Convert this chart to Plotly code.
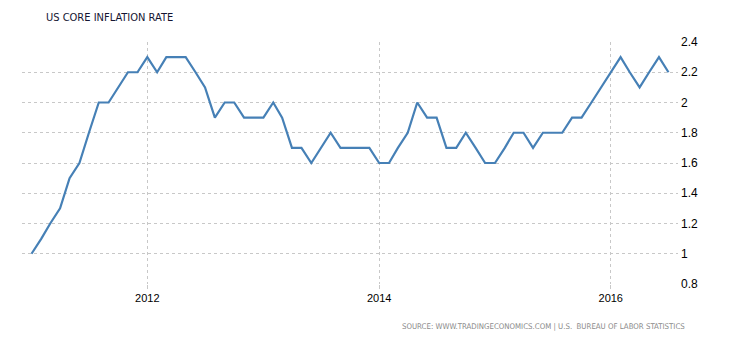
import pandas as pd
import plotly.graph_objects as go

start_month = "2011-01-01"
values = [
    # 2011
    1.0, 1.1, 1.2, 1.3, 1.5, 1.6, 1.8, 2.0, 2.0, 2.1, 2.2, 2.2,
    # 2012
    2.3, 2.2, 2.3, 2.3, 2.3, 2.2, 2.1, 1.9, 2.0, 2.0, 1.9, 1.9,
    # 2013
    1.9, 2.0, 1.9, 1.7, 1.7, 1.6, 1.7, 1.8, 1.7, 1.7, 1.7, 1.7,
    # 2014
    1.6, 1.6, 1.7, 1.8, 2.0, 1.9, 1.9, 1.7, 1.7, 1.8, 1.7, 1.6,
    # 2015
    1.6, 1.7, 1.8, 1.8, 1.7, 1.8, 1.8, 1.8, 1.9, 1.9, 2.0, 2.1,
    # 2016
    2.2, 2.3, 2.2, 2.1, 2.2, 2.3, 2.2,
]
dates = pd.date_range(start_month, periods=len(values), freq="MS")

x_ticks = ["2012-01-01", "2014-01-01", "2016-01-01"]
x_tick_labels = ["2012", "2014", "2016"]
y_ticks = [0.8, 1.0, 1.2, 1.4, 1.6, 1.8, 2.0, 2.2, 2.4]
y_tick_labels = ["0.8", "1", "1.2", "1.4", "1.6", "1.8", "2", "2.2", "2.4"]

title_text = "US CORE INFLATION RATE"
source_text = "SOURCE: WWW.TRADINGECONOMICS.COM | U.S.  BUREAU OF LABOR STATISTICS"

fig = go.Figure()
fig.add_trace(go.Scatter(
    x=dates, y=values, mode="lines",
    line=dict(color="#4680B6", width=2.2),
    hoverinfo="x+y", showlegend=False,
))

fig.update_layout(
    width=730, height=340,
    margin=dict(l=22, r=52, t=42, b=56),
    paper_bgcolor="white", plot_bgcolor="white",
    font=dict(family="Liberation Sans, Arial, sans-serif", size=11, color="#000000"),
    xaxis=dict(
        range=["2010-12-02", "2016-07-31"],
        tickvals=x_ticks, ticktext=x_tick_labels,
        showgrid=True, gridcolor="#c8c8c8", griddash="dot", gridwidth=1,
        zeroline=False, showline=False,
        ticks="outside", ticklen=4, tickcolor="#c8c8c8",
        tickfont=dict(size=11, color="#000000"),
    ),
    yaxis=dict(
        range=[0.8, 2.4], side="right",
        tickvals=y_ticks, ticktext=y_tick_labels,
        showgrid=True, gridcolor="#c8c8c8", griddash="dot", gridwidth=1,
        zeroline=False, showline=False, ticks="",
        ticklabelstandoff=2,
        tickfont=dict(size=12, color="#000000"),
    ),
    annotations=[
        dict(text=title_text, xref="paper", yref="paper", x=0, y=1,
             xanchor="left", yanchor="middle", xshift=22, yshift=25,
             showarrow=False,
             font=dict(family="DejaVu Sans Condensed, Liberation Sans Narrow, Liberation Sans, sans-serif",
                       size=11, color="#141432")),
        dict(text=source_text, xref="paper", yref="paper", x=1, y=0,
             xanchor="right", yanchor="middle", xshift=9, yshift=-42,
             showarrow=False,
             font=dict(family="DejaVu Sans Condensed, Liberation Sans, sans-serif",
                       size=7.8, color="#8a8a8a")),
    ],
)

fig.write_html("out.html")
